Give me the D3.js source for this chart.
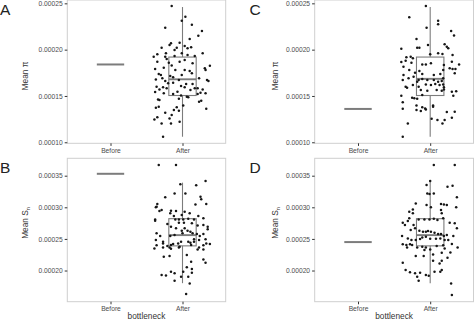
<!DOCTYPE html>
<html>
<head>
<meta charset="utf-8">
<script src="https://cdn.jsdelivr.net/npm/d3@7"></script>
<style>
  body { margin: 0; background: #fff; }
  svg { display: block; font-family: 'Liberation Sans', Arial, sans-serif; }
</style>
</head>
<body>
<svg id="chart" width="474" height="322"></svg>
<script>
// all values are in units of 1e-5
const groups = ['Before', 'After'];
const tags = ['A', 'B', 'C', 'D'];
const piTicks = [10, 15, 20, 25];
const sTicks = [20, 25, 30, 35];
const piDomain = [9.89, 25.36];
const sDomain = [15.07, 37.75];

const beforeMean = [18.4, 35.3, 13.6, 24.5];
const whiskerLow = [10.6, 18.0, 10.6, 18.0];
const quartile1 = [15.05, 23.9, 15.05, 23.9];
const medians = [16.8, 25.6, 16.85, 25.6];
const quartile3 = [19.2, 28.2, 19.2, 28.2];
const whiskerHigh = [24.6, 33.9, 24.6, 34.2];

// [jitter (fraction of a category step), mean]
const afterA = [
  [-0.15, 24.71], [0.04, 23.56], [-0.01, 23.13], [0.13, 22.70], [-0.24, 22.37], [0.27, 22.01],
  [0.22, 21.51], [0.10, 21.15], [-0.16, 20.68], [-0.04, 20.75], [-0.29, 20.21], [-0.18, 20.50],
  [0.03, 20.39], [0.12, 20.25], [0.07, 20.14], [-0.08, 20.21], [-0.35, 19.49], [-0.23, 19.60],
  [-0.11, 19.96], [-0.01, 19.60], [0.28, 19.60], [-0.40, 19.24], [-0.24, 19.24], [-0.11, 19.31],
  [0.07, 19.42], [0.17, 19.31], [-0.22, 18.99], [-0.35, 18.70], [-0.19, 18.59], [-0.04, 18.70],
  [0.03, 18.88], [0.14, 18.52], [0.38, 18.27], [0.31, 17.98], [0.32, 17.80], [-0.38, 17.91],
  [-0.26, 18.05], [-0.15, 18.30], [-0.10, 17.80], [0.03, 17.80], [0.10, 17.69], [-0.33, 17.37],
  [-0.30, 17.26], [-0.17, 17.15], [-0.13, 17.01], [-0.01, 17.26], [0.13, 17.44], [0.23, 16.90],
  [0.34, 16.72], [-0.28, 16.90], [-0.37, 16.79], [-0.24, 16.61], [-0.20, 16.36], [-0.13, 16.43],
  [0.05, 16.29], [-0.05, 16.72], [0.14, 16.29], [0.36, 16.61], [-0.36, 16.00], [-0.27, 15.93],
  [-0.22, 15.82], [-0.32, 15.71], [-0.02, 16.07], [0.03, 15.93], [0.17, 15.82], [0.11, 15.64],
  [0.28, 15.71], [0.21, 15.82], [-0.26, 15.28], [-0.38, 15.42], [-0.07, 15.46], [-0.13, 15.21],
  [-0.02, 15.06], [0.25, 15.35], [0.21, 15.21], [0.32, 15.28], [0.06, 14.92], [-0.34, 14.63],
  [-0.32, 14.56], [-0.05, 14.70], [0.08, 14.85], [0.23, 14.38], [0.26, 14.49], [-0.37, 13.73],
  [-0.33, 13.84], [-0.08, 13.77], [-0.12, 13.48], [0.01, 13.98], [0.33, 13.62], [-0.24, 13.19],
  [-0.05, 13.41], [-0.39, 12.47], [-0.35, 12.69], [-0.15, 12.94], [-0.18, 12.58], [-0.16, 12.04],
  [-0.29, 12.04], [-0.04, 12.22], [-0.27, 10.60]
];

const afterB = [
  [-0.33, 36.69], [-0.09, 36.69], [-0.03, 33.63], [0.32, 34.16], [0.19, 33.47], [-0.11, 32.20],
  [-0.24, 31.57], [0.04, 32.20], [0.25, 31.68], [0.26, 31.26], [0.33, 30.52], [0.18, 30.46],
  [-0.35, 30.52], [-0.36, 30.10], [-0.37, 29.99], [-0.29, 29.57], [-0.32, 29.41], [-0.16, 29.46],
  [-0.09, 29.41], [0.03, 29.30], [-0.38, 28.09], [-0.38, 27.88], [-0.17, 29.04], [-0.12, 28.62],
  [-0.01, 28.78], [0.10, 29.04], [0.22, 28.62], [0.29, 28.25], [-0.10, 28.09], [-0.05, 28.09],
  [0.01, 28.09], [0.08, 28.20], [0.16, 28.09], [-0.05, 27.56], [0.02, 27.56], [0.13, 27.46],
  [0.29, 27.19], [0.35, 26.93], [0.21, 27.14], [0.35, 26.51], [-0.21, 27.35], [-0.16, 26.93],
  [-0.09, 26.67], [0.03, 26.67], [0.07, 26.30], [-0.01, 26.30], [-0.36, 25.88], [-0.31, 25.45],
  [-0.37, 24.82], [-0.27, 24.56], [-0.36, 23.98], [-0.17, 25.45], [-0.11, 25.61], [0.00, 25.88],
  [0.11, 26.14], [0.14, 25.88], [0.20, 25.77], [0.29, 25.77], [0.24, 25.45], [0.16, 24.93],
  [0.16, 24.56], [0.23, 24.82], [0.32, 24.93], [0.38, 24.19], [0.33, 24.29], [0.29, 23.98],
  [0.23, 23.66], [0.29, 23.34], [0.21, 23.34], [-0.27, 24.29], [-0.21, 23.87], [-0.16, 24.03],
  [-0.13, 24.19], [-0.06, 24.29], [-0.02, 24.56], [0.08, 24.56], [0.11, 24.40], [0.12, 24.03],
  [-0.39, 23.50], [-0.27, 23.66], [-0.18, 23.66], [-0.16, 23.45], [-0.05, 23.66], [-0.04, 23.77],
  [-0.26, 22.18], [-0.18, 22.29], [0.06, 22.45], [0.29, 21.76], [0.32, 21.23], [0.12, 21.39],
  [0.06, 20.50], [0.13, 20.23], [0.01, 19.81], [0.13, 19.65], [-0.29, 19.28], [-0.23, 19.23],
  [-0.16, 19.81], [-0.11, 19.55], [-0.02, 19.02], [-0.11, 18.39], [0.08, 19.02], [0.10, 17.96],
  [0.05, 16.28]
];

const afterC = [
  [-0.06, 24.71], [-0.29, 23.49], [0.11, 23.13], [0.11, 22.73], [-0.05, 22.37], [0.29, 22.01],
  [0.33, 21.54], [-0.19, 21.15], [-0.18, 20.21], [-0.15, 20.21], [-0.03, 20.50], [0.20, 20.57],
  [0.23, 20.32], [0.25, 20.14], [-0.40, 20.10], [0.11, 19.60], [0.00, 19.49], [0.17, 19.53],
  [0.31, 19.42], [-0.27, 19.24], [-0.33, 19.17], [-0.24, 19.06], [-0.40, 18.66], [-0.34, 18.81],
  [-0.26, 18.59], [-0.11, 18.41], [-0.06, 18.41], [0.01, 18.52], [0.30, 18.70], [0.40, 18.41],
  [0.19, 18.34], [0.27, 17.98], [0.31, 17.91], [0.35, 17.91], [-0.37, 18.16], [-0.29, 17.80],
  [-0.15, 17.69], [-0.21, 17.51], [-0.11, 17.37], [-0.37, 17.26], [0.05, 17.26], [0.18, 17.80],
  [0.34, 17.44], [0.14, 17.37], [-0.30, 16.90], [-0.23, 17.08], [-0.16, 16.72], [-0.18, 16.54],
  [-0.11, 16.83], [-0.04, 16.72], [0.05, 16.72], [0.11, 16.54], [0.16, 16.61], [0.18, 16.90],
  [-0.38, 16.72], [-0.34, 16.00], [-0.32, 15.89], [-0.24, 16.18], [-0.16, 16.00], [-0.06, 16.25],
  [0.01, 16.18], [0.07, 16.29], [0.13, 16.18], [0.19, 15.93], [0.19, 15.71], [0.18, 16.25],
  [-0.13, 15.64], [-0.04, 15.57], [0.09, 15.64], [0.16, 15.57], [0.30, 15.46], [0.36, 15.50],
  [-0.40, 15.03], [-0.25, 14.81], [-0.22, 14.74], [-0.18, 14.70], [0.32, 15.03], [-0.11, 15.10],
  [-0.38, 14.31], [0.04, 13.98], [-0.19, 13.98], [0.04, 13.84], [-0.11, 13.77], [-0.38, 13.62],
  [-0.19, 13.48], [-0.13, 13.37], [-0.06, 13.55], [0.23, 13.26], [0.34, 13.30], [-0.07, 13.66],
  [0.02, 12.54], [0.10, 12.40], [0.20, 12.40], [0.17, 12.04], [-0.31, 12.04], [0.30, 12.65],
  [-0.38, 10.60]
];

const afterD = [
  [0.05, 36.69], [0.34, 36.69], [0.00, 34.16], [-0.05, 33.52], [-0.04, 32.20], [-0.01, 32.10],
  [0.05, 32.20], [0.31, 33.42], [0.24, 33.26], [0.37, 31.57], [0.36, 29.99], [-0.05, 30.36],
  [-0.20, 30.62], [-0.24, 29.67], [0.01, 29.99], [0.15, 30.52], [0.15, 29.57], [0.19, 30.46],
  [0.23, 30.36], [-0.29, 29.30], [-0.24, 29.04], [-0.29, 28.25], [-0.38, 27.56], [-0.31, 27.83],
  [-0.35, 27.19], [-0.16, 28.09], [-0.08, 28.09], [-0.01, 28.09], [0.05, 28.20], [0.10, 27.99],
  [0.16, 29.04], [0.18, 28.25], [0.27, 27.56], [0.34, 27.46], [0.37, 26.67], [-0.23, 27.19],
  [-0.27, 26.40], [-0.21, 26.67], [-0.15, 26.30], [-0.10, 26.14], [-0.06, 26.14], [-0.03, 26.24],
  [0.01, 26.14], [0.06, 25.98], [0.11, 25.77], [0.15, 25.77], [0.19, 25.45], [0.23, 25.61],
  [0.14, 25.08], [-0.39, 25.45], [-0.31, 25.08], [-0.26, 24.82], [-0.20, 24.82], [-0.14, 24.98],
  [-0.11, 25.24], [-0.06, 25.35], [0.00, 25.03], [0.08, 25.03], [0.20, 24.82], [0.25, 24.82],
  [0.32, 25.45], [-0.38, 24.14], [-0.33, 24.03], [-0.28, 24.14], [-0.25, 24.03], [-0.32, 23.66],
  [-0.18, 23.66], [-0.11, 23.77], [-0.06, 23.66], [0.00, 23.34], [0.09, 23.87], [0.18, 23.98],
  [0.20, 23.50], [0.30, 24.19], [0.38, 23.66], [-0.20, 22.29], [-0.09, 22.29], [0.04, 22.55],
  [0.04, 21.55], [0.16, 22.82], [0.16, 21.55], [0.24, 22.03], [0.28, 22.87], [-0.08, 23.24],
  [-0.38, 21.23], [-0.34, 20.07], [-0.28, 19.71], [-0.21, 19.55], [-0.14, 19.65], [-0.18, 19.02],
  [-0.06, 19.28], [-0.02, 19.18], [0.06, 19.81], [0.14, 19.81], [0.13, 21.13], [0.16, 20.07],
  [0.29, 17.96], [0.30, 16.12], [-0.16, 18.39]
];

const afterPoints = [afterA, afterB, afterC, afterD];

const cols = [{ left: 67.3, right: 225.7, labelX: 25, tagX: 0 }, { left: 314.7, right: 473.5, labelX: 275, tagX: 249.5 }];
const rows = [
  { top: 0, bottom: 143.3, domain: piDomain, ticks: piTicks, labelY: 76, tagY: 15 },
  { top: 158.3, bottom: 301.7, domain: sDomain, ticks: sTicks, labelY: 223, tagY: 173 }
];

const boxColor = '#7c7c7c';
const svg = d3.select('#chart');

tags.forEach((tag, i) => {
  const col = cols[Math.floor(i / 2)];
  const row = rows[i % 2];

  const xScale = d3.scalePoint()
    .domain(groups)
    .range([col.left, col.right])
    .padding(0.6);
  const yScale = d3.scaleLinear()
    .domain(row.domain)
    .range([row.bottom, row.top]);
  const step = xScale.step();
  const halfBox = step * 0.19;
  const g = svg.append('g').attr('class', 'panel');

  g.append('rect')
    .attr('x', col.left)
    .attr('y', row.top)
    .attr('width', col.right - col.left)
    .attr('height', row.bottom - row.top)
    .attr('fill', 'none')
    .attr('stroke', '#cfcfcf')
    .attr('stroke-width', 1);

  const yAxis = g.append('g')
    .attr('transform', `translate(${col.left}, 0)`)
    .call(d3.axisLeft(yScale)
      .tickValues(row.ticks)
      .tickSize(2.6)
      .tickPadding(2)
      .tickFormat(d => (d * 1e-5).toFixed(5)));
  yAxis.select('.domain').remove();

  const xAxis = g.append('g')
    .attr('transform', `translate(0, ${row.bottom})`)
    .call(d3.axisBottom(xScale).tickSize(2.6).tickPadding(2));
  xAxis.select('.domain').remove();

  [yAxis, xAxis].forEach(ax => {
    ax.selectAll('line').attr('stroke', '#333');
    ax.selectAll('text')
      .attr('fill', '#4d4d4d')
      .style('font-size', '6.7px')
      .style('font-family', "'Liberation Sans', Arial, sans-serif");
  });

  // the single before value collapses to a flat bar
  g.append('line')
    .attr('x1', xScale('Before') - halfBox)
    .attr('x2', xScale('Before') + halfBox)
    .attr('y1', yScale(beforeMean[i]))
    .attr('y2', yScale(beforeMean[i]))
    .attr('stroke', boxColor)
    .attr('stroke-width', 2);

  const cx = xScale('After');
  g.selectAll('line.whisker')
    .data([[whiskerLow[i], quartile1[i]], [quartile3[i], whiskerHigh[i]]])
    .enter()
    .append('line')
    .attr('class', 'whisker')
    .attr('x1', cx)
    .attr('x2', cx)
    .attr('y1', d => yScale(d[0]))
    .attr('y2', d => yScale(d[1]))
    .attr('stroke', boxColor)
    .attr('stroke-width', 1.1);

  g.append('rect')
    .attr('x', cx - halfBox)
    .attr('y', yScale(quartile3[i]))
    .attr('width', halfBox * 2)
    .attr('height', yScale(quartile1[i]) - yScale(quartile3[i]))
    .attr('fill', 'none')
    .attr('stroke', boxColor)
    .attr('stroke-width', 1.1);

  g.append('line')
    .attr('x1', cx - halfBox)
    .attr('x2', cx + halfBox)
    .attr('y1', yScale(medians[i]))
    .attr('y2', yScale(medians[i]))
    .attr('stroke', boxColor)
    .attr('stroke-width', 1.9);

  g.selectAll('circle')
    .data(afterPoints[i])
    .enter()
    .append('circle')
    .attr('cx', d => cx + d[0] * step)
    .attr('cy', d => yScale(d[1]))
    .attr('r', 1.25)
    .attr('fill', '#161616');

  // y axis title
  const title = g.append('text')
    .attr('transform', `translate(${col.labelX}, ${row.labelY}) rotate(-90)`)
    .attr('text-anchor', 'middle')
    .attr('dy', '0.35em')
    .attr('fill', '#333')
    .style('font-size', '8.3px');
  if (i % 2 === 0) {
    title.text('Mean π');
  } else {
    title.append('tspan').text('Mean S');
    title.append('tspan')
      .attr('dy', '0.3em')
      .style('font-size', '5.5px')
      .text('n');
  }

  if (i % 2 === 1) {
    g.append('text')
      .attr('x', (col.left + col.right) / 2)
      .attr('y', 319)
      .attr('text-anchor', 'middle')
      .attr('fill', '#333')
      .style('font-size', '8.3px')
      .text('bottleneck');
  }

  g.append('text')
    .attr('x', col.tagX)
    .attr('y', row.tagY)
    .attr('fill', '#222')
    .style('font-size', '15.5px')
    .text(tag);
});
</script>
</body>
</html>
